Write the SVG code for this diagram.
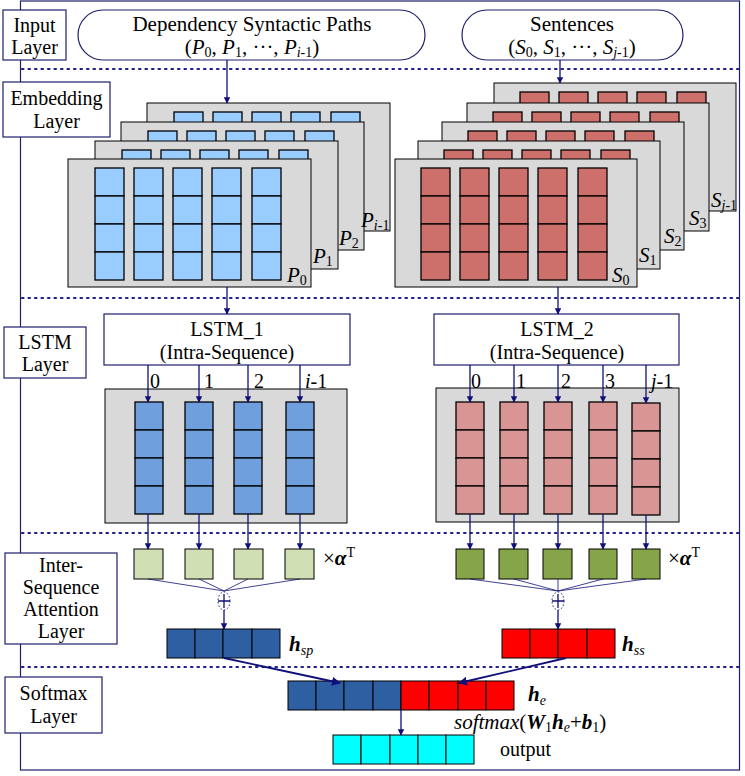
<svg xmlns="http://www.w3.org/2000/svg" width="745" height="776" viewBox="0 0 745 776" font-family="'Liberation Serif', 'Times New Roman', serif">
<style>
text{font-family:'Liberation Serif','Times New Roman',serif;fill:#000}
.lb{fill:#fff;stroke:#1f1f6e;stroke-width:1.2}
.dot{stroke:#1f1f8a;stroke-width:2.2;stroke-dasharray:1.5 5;stroke-linecap:round;fill:none}
.ln{stroke:#10107a;stroke-width:1.3;fill:none}
.card{fill:#d9d9d9;stroke:#000;stroke-width:1}
.c{stroke:#000;stroke-width:1.3}
.cb{fill:#99ccff}.cr{fill:#cd6f6b}.lbl{fill:#6f9fdc}.lpk{fill:#d99594}
.g1{fill:#d1e0b4;stroke:#000}.g2{fill:#86a548;stroke:#000}
.t19{font-size:20px}.t20{font-size:21px}
.sub{font-size:14px}
</style>
<defs>
<marker id="ah" viewBox="0 0 10 10" refX="9" refY="5" markerWidth="5" markerHeight="5" orient="auto"><path d="M0,0 L10,5 L0,10 z" fill="#10107a"/></marker>
<g id="col"><rect x="0" y="0" width="29" height="28"/><rect x="0" y="28" width="29" height="28"/><rect x="0" y="56" width="29" height="28"/><rect x="0" y="84" width="29" height="28"/></g>
<g id="lc"><rect class="card" x="0" y="0" width="243" height="128"/>
<g class="c cb"><use href="#col" x="27" y="9"/><use href="#col" x="66" y="9"/><use href="#col" x="105" y="9"/><use href="#col" x="144" y="9"/><use href="#col" x="184" y="9"/></g></g>
<g id="rc"><rect class="card" x="0" y="0" width="242" height="128"/>
<g class="c cr"><use href="#col" x="26" y="9"/><use href="#col" x="65" y="9"/><use href="#col" x="104" y="9"/><use href="#col" x="143" y="9"/><use href="#col" x="183" y="9"/></g></g>
<g id="sc"><rect x="0" y="0" width="28" height="28"/><rect x="0" y="28" width="28" height="28"/><rect x="0" y="56" width="28" height="28"/><rect x="0" y="84" width="28" height="28"/></g>
</defs>
<rect x="0" y="0" width="745" height="776" fill="#fff"/>
<rect x="20.5" y="1" width="719" height="769" fill="none" stroke="#1f1f6e" stroke-width="1.2"/>
<g id="separators">
<line class="dot" x1="22" y1="69" x2="740" y2="69"/>
<line class="dot" x1="22" y1="298" x2="740" y2="298"/>
<line class="dot" x1="22" y1="533" x2="740" y2="533"/>
<line class="dot" x1="22" y1="667" x2="740" y2="667"/>
</g>
<g id="layer-labels">
<g id="lbl-input"><rect class="lb" x="3" y="10" width="63" height="50"/><text class="t19" x="34.5" y="32" text-anchor="middle">Input</text><text class="t19" x="34.5" y="54" text-anchor="middle">Layer</text></g>
<g id="lbl-embed"><rect class="lb" x="3" y="82" width="107" height="55"/><text class="t19" x="56.5" y="105" text-anchor="middle">Embedding</text><text class="t19" x="56.5" y="128" text-anchor="middle">Layer</text></g>
<g id="lbl-lstm"><rect class="lb" x="4" y="327" width="82" height="51"/><text class="t19" x="45" y="349" text-anchor="middle">LSTM</text><text class="t19" x="45" y="371" text-anchor="middle">Layer</text></g>
<g id="lbl-att"><rect class="lb" x="5" y="553" width="112" height="91"/><text class="t19" x="61" y="572" text-anchor="middle">Inter-</text><text class="t19" x="61" y="594" text-anchor="middle">Sequence</text><text class="t19" x="61" y="616" text-anchor="middle">Attention</text><text class="t19" x="61" y="638" text-anchor="middle">Layer</text></g>
<g id="lbl-soft"><rect class="lb" x="5" y="677" width="97" height="56"/><text class="t19" x="53.5" y="700" text-anchor="middle">Softmax</text><text class="t19" x="53.5" y="723" text-anchor="middle">Layer</text></g>
</g>
<g id="input-paths"><rect class="lb" x="78" y="10" width="347" height="50" rx="25"/>
<text class="t20" x="252" y="31" text-anchor="middle">Dependency Syntactic Paths</text>
<text class="t20" x="252" y="54" text-anchor="middle">(<tspan font-style="italic">P</tspan><tspan class="sub" dy="3">0</tspan><tspan dy="-3">, </tspan><tspan font-style="italic">P</tspan><tspan class="sub" dy="3">1</tspan><tspan dy="-3">, ···, </tspan><tspan font-style="italic">P</tspan><tspan class="sub" dy="3"><tspan font-style="italic">i</tspan>-1</tspan><tspan dy="-3">)</tspan></text></g>
<g id="input-sent"><rect class="lb" x="462" y="10" width="221" height="50" rx="25"/>
<text class="t20" x="572" y="31" text-anchor="middle">Sentences</text>
<text class="t20" x="572" y="54" text-anchor="middle">(<tspan font-style="italic">S</tspan><tspan class="sub" dy="3">0</tspan><tspan dy="-3">, </tspan><tspan font-style="italic">S</tspan><tspan class="sub" dy="3">1</tspan><tspan dy="-3">, ···, </tspan><tspan font-style="italic">S</tspan><tspan class="sub" dy="3"><tspan font-style="italic">j</tspan>-1</tspan><tspan dy="-3">)</tspan></text></g>
<g id="embed-paths">
<use href="#lc" x="147" y="103"/><use href="#lc" x="121" y="122"/><use href="#lc" x="95" y="141"/><use href="#lc" x="68" y="159"/>
<g class="t20" font-style="italic"><text x="287" y="282">P<tspan class="sub" font-style="normal" dy="3">0</tspan></text><text x="313" y="263">P<tspan class="sub" font-style="normal" dy="3">1</tspan></text><text x="339" y="245">P<tspan class="sub" font-style="normal" dy="3">2</tspan></text><text x="361" y="227">P<tspan class="sub" dy="3">i</tspan><tspan class="sub" font-style="normal">-1</tspan></text></g>
</g>
<g id="embed-sent">
<use href="#rc" x="494" y="83"/><use href="#rc" x="467" y="103"/><use href="#rc" x="442" y="122"/><use href="#rc" x="418" y="141"/><use href="#rc" x="395" y="159"/>
<g class="t20" font-style="italic"><text x="612" y="282">S<tspan class="sub" font-style="normal" dy="3">0</tspan></text><text x="639" y="262">S<tspan class="sub" font-style="normal" dy="3">1</tspan></text><text x="664" y="243">S<tspan class="sub" font-style="normal" dy="3">2</tspan></text><text x="689" y="225">S<tspan class="sub" font-style="normal" dy="3">3</tspan></text><text x="711" y="207">S<tspan class="sub" dy="3">j</tspan><tspan class="sub" font-style="normal">-1</tspan></text></g>
</g>
<g id="lstm1"><rect class="lb" x="104" y="314" width="246" height="51"/><text class="t19" x="227" y="336" text-anchor="middle">LSTM_1</text><text class="t19" x="227" y="359" text-anchor="middle">(Intra-Sequence)</text>
<rect class="card" x="105" y="389" width="242" height="134"/>
<g class="c lbl"><use href="#sc" x="135" y="402"/><use href="#sc" x="185" y="402"/><use href="#sc" x="234" y="402"/><use href="#sc" x="286" y="402"/></g>
<g class="t19"><text x="150" y="388">0</text><text x="204" y="388">1</text><text x="254" y="388">2</text><text x="305" y="388"><tspan font-style="italic">i</tspan>-1</text></g></g>
<g id="lstm2"><rect class="lb" x="434" y="314" width="245" height="51"/><text class="t19" x="557" y="336" text-anchor="middle">LSTM_2</text><text class="t19" x="557" y="359" text-anchor="middle">(Intra-Sequence)</text>
<rect class="card" x="436" y="388" width="243" height="134"/>
<g class="c lpk"><use href="#sc" x="456" y="402"/><use href="#sc" x="500" y="402"/><use href="#sc" x="544" y="402"/><use href="#sc" x="589" y="402"/><use href="#sc" x="632" y="403"/></g>
<g class="t19"><text x="471" y="388">0</text><text x="516" y="388">1</text><text x="561" y="388">2</text><text x="605" y="388">3</text><text x="651" y="388"><tspan font-style="italic">j</tspan>-1</text></g></g>
<g id="attention">
<g class="g1"><rect x="134" y="549" width="29" height="30"/><rect x="185" y="549" width="28" height="30"/><rect x="234" y="549" width="29" height="30"/><rect x="285" y="549" width="29" height="30"/></g>
<g class="g2"><rect x="456" y="549" width="28" height="30"/><rect x="499" y="549" width="29" height="30"/><rect x="543" y="549" width="29" height="30"/><rect x="589" y="549" width="28" height="30"/><rect x="632" y="549" width="28" height="30"/></g>
<text class="t20" x="323" y="565">×<tspan font-weight="bold" font-style="italic">α</tspan><tspan class="sub" dy="-8">T</tspan></text>
<text class="t20" x="668" y="565">×<tspan font-weight="bold" font-style="italic">α</tspan><tspan class="sub" dy="-8">T</tspan></text>
<ellipse cx="224" cy="601" rx="6" ry="9" fill="none" stroke="#10107a" stroke-dasharray="1.5 2"/>
<ellipse cx="558" cy="601" rx="6" ry="9" fill="none" stroke="#10107a" stroke-dasharray="1.5 2"/>
<path d="M218,601 H230 M224,594 V608 M552,601 H564 M558,594 V608" class="ln"/>
</g>
<g id="hsp"><g fill="#2e5fa3" stroke="#000"><rect x="167" y="629" width="28" height="29"/><rect x="195" y="629" width="28" height="29"/><rect x="223" y="629" width="29" height="29"/><rect x="252" y="629" width="28" height="29"/></g>
<text class="t20" x="289" y="651" font-weight="bold" font-style="italic">h<tspan class="sub" font-weight="normal" dy="4">sp</tspan></text></g>
<g id="hss"><g fill="#ff0000" stroke="#000"><rect x="502" y="629" width="28" height="29"/><rect x="530" y="629" width="28" height="29"/><rect x="558" y="629" width="29" height="29"/><rect x="587" y="629" width="28" height="29"/></g>
<text class="t20" x="622" y="651" font-weight="bold" font-style="italic">h<tspan class="sub" font-weight="normal" dy="4">ss</tspan></text></g>
<g id="he"><g fill="#2e5fa3" stroke="#000"><rect x="288" y="681" width="28" height="29"/><rect x="316" y="681" width="28" height="29"/><rect x="344" y="681" width="29" height="29"/><rect x="373" y="681" width="28" height="29"/></g>
<g fill="#ff0000" stroke="#000"><rect x="401" y="681" width="28" height="29"/><rect x="429" y="681" width="29" height="29"/><rect x="458" y="681" width="28" height="29"/><rect x="486" y="681" width="28" height="29"/></g>
<text class="t20" x="528" y="701" font-weight="bold" font-style="italic">h<tspan class="sub" font-weight="normal" dy="4">e</tspan></text>
<text class="t20" x="454" y="729" font-style="italic">softmax<tspan font-style="normal">(</tspan><tspan font-weight="bold">W</tspan><tspan class="sub" font-style="normal" dy="3">1</tspan><tspan font-weight="bold" dy="-3">h</tspan><tspan class="sub" dy="3">e</tspan><tspan font-style="normal" dy="-3">+</tspan><tspan font-weight="bold">b</tspan><tspan class="sub" font-style="normal" dy="3">1</tspan><tspan font-style="normal" dy="-3">)</tspan></text></g>
<g id="output"><g fill="#00ffff" stroke="#000"><rect x="333" y="735" width="28" height="29"/><rect x="361" y="735" width="29" height="29"/><rect x="390" y="735" width="28" height="29"/><rect x="418" y="735" width="28" height="29"/><rect x="446" y="735" width="28" height="29"/></g>
<text class="t19" x="500" y="756">output</text></g>
<g id="connectors" class="ln">
<line x1="227" y1="60" x2="227" y2="103" marker-end="url(#ah)"/>
<line x1="560" y1="60" x2="560" y2="83" marker-end="url(#ah)"/>
<line x1="227" y1="287" x2="227" y2="314" marker-end="url(#ah)"/>
<line x1="558" y1="287" x2="558" y2="314" marker-end="url(#ah)"/>
<line x1="148" y1="365" x2="148" y2="402" marker-end="url(#ah)"/>
<line x1="199" y1="365" x2="199" y2="402" marker-end="url(#ah)"/>
<line x1="248" y1="365" x2="248" y2="402" marker-end="url(#ah)"/>
<line x1="300" y1="365" x2="300" y2="402" marker-end="url(#ah)"/>
<line x1="470" y1="365" x2="470" y2="402" marker-end="url(#ah)"/>
<line x1="514" y1="365" x2="514" y2="402" marker-end="url(#ah)"/>
<line x1="558" y1="365" x2="558" y2="402" marker-end="url(#ah)"/>
<line x1="603" y1="365" x2="603" y2="402" marker-end="url(#ah)"/>
<line x1="646" y1="365" x2="646" y2="403" marker-end="url(#ah)"/>
<line x1="148" y1="514" x2="148" y2="549" marker-end="url(#ah)"/>
<line x1="199" y1="514" x2="199" y2="549" marker-end="url(#ah)"/>
<line x1="248" y1="514" x2="248" y2="549" marker-end="url(#ah)"/>
<line x1="300" y1="514" x2="300" y2="549" marker-end="url(#ah)"/>
<line x1="470" y1="514" x2="470" y2="549" marker-end="url(#ah)"/>
<line x1="514" y1="514" x2="514" y2="549" marker-end="url(#ah)"/>
<line x1="558" y1="514" x2="558" y2="549" marker-end="url(#ah)"/>
<line x1="603" y1="514" x2="603" y2="549" marker-end="url(#ah)"/>
<line x1="646" y1="515" x2="646" y2="549" marker-end="url(#ah)"/>
<path d="M148,579 L224,591 M199,579 L224,591 M248,579 L224,591 M300,579 L224,591" stroke-width="0.8"/>
<path d="M470,579 L558,591 M514,579 L558,591 M558,579 L558,591 M603,579 L558,591 M646,579 L558,591" stroke-width="0.8"/>
<line x1="224" y1="610" x2="224" y2="629" marker-end="url(#ah)"/>
<line x1="558" y1="610" x2="558" y2="629" marker-end="url(#ah)"/>
<line x1="224" y1="658" x2="340" y2="683" stroke-width="1.8" marker-end="url(#ah)"/>
<line x1="566" y1="658" x2="459" y2="683" stroke-width="1.8" marker-end="url(#ah)"/>
<line x1="401" y1="710" x2="401" y2="735" marker-end="url(#ah)"/>
</g>
</svg>
